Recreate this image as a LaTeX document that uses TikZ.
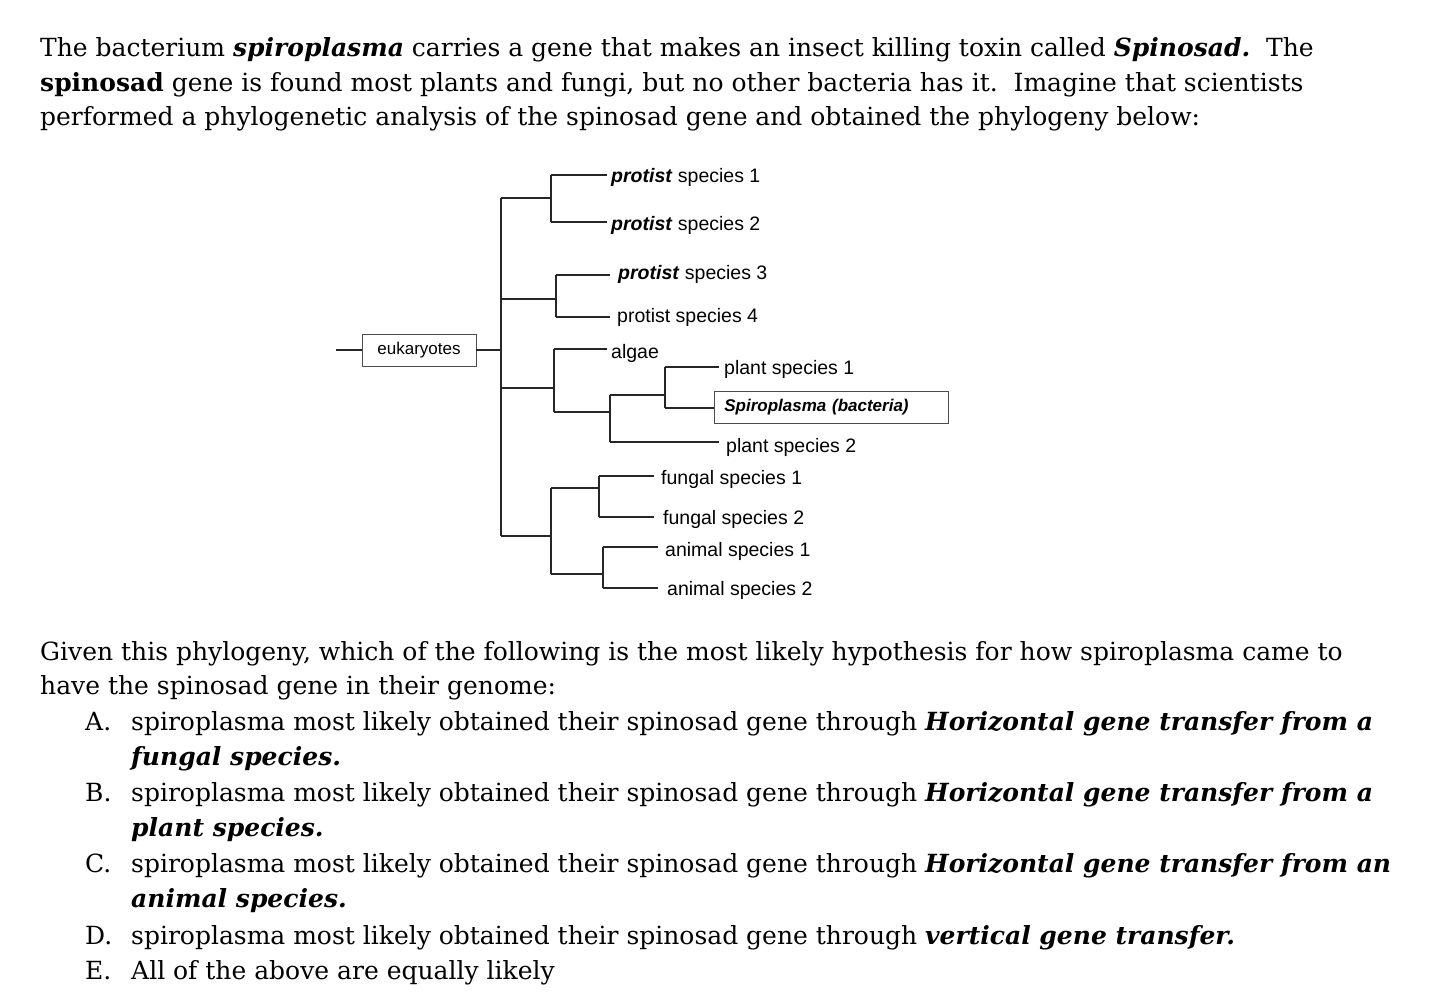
\documentclass[tikz,border=0pt]{standalone}
\usepackage{fontspec}
\setmainfont{DejaVu Serif}
\newfontfamily\arialf{Liberation Sans}
\begin{document}
\begin{tikzpicture}[x=1pt,y=-1pt,
  body/.style={anchor=base west,inner sep=0pt,font=\fontsize{25}{30}\selectfont},
  leaf/.style={anchor=base west,inner sep=0pt,font=\arialf\fontsize{19.5}{22}\selectfont},
  br/.style={line width=1.1pt,draw=black!85}]
\useasboundingbox (0,0) rectangle (1436,1000);
% question text
\node[body] (t1) at (40,57) {The bacterium \textbf{\textit{spiroplasma}} carries a gene that makes an insect killing toxin called \textbf{\textit{Spinosad.}}\ \ The};
\node[body] (t2) at (40,92) {\textbf{spinosad} gene is found most plants and fungi, but no other bacteria has it.\ \ Imagine that scientists};
\node[body] (t3) at (40,126) {performed a phylogenetic analysis of the spinosad gene and obtained the phylogeny below:};
\node[body] (g1) at (40,660) {Given this phylogeny, which of the following is the most likely hypothesis for how spiroplasma came to};
\node[body] (g2) at (40,694) {have the spinosad gene in their genome:};
\node[body] (la) at (85,730) {A.};
\node[body] (a1) at (131,730) {spiroplasma most likely obtained their spinosad gene through \textbf{\textit{Horizontal gene transfer from a}}};
\node[body] (a2) at (131,765) {\textbf{\textit{fungal species.}}};
\node[body] (lb) at (85,801) {B.};
\node[body] (b1) at (131,801) {spiroplasma most likely obtained their spinosad gene through \textbf{\textit{Horizontal gene transfer from a}}};
\node[body] (b2) at (131,836) {\textbf{\textit{plant species.}}};
\node[body] (lc) at (85,872) {C.};
\node[body] (c1) at (131,872) {spiroplasma most likely obtained their spinosad gene through \textbf{\textit{Horizontal gene transfer from an}}};
\node[body] (c2) at (131,907) {\textbf{\textit{animal species.}}};
\node[body] (ld) at (85,944) {D.};
\node[body] (d1) at (131,944) {spiroplasma most likely obtained their spinosad gene through \textbf{\textit{vertical gene transfer.}}};
\node[body] (le) at (85,979) {E.};
\node[body] (e1) at (131,979) {All of the above are equally likely};
% tree
\node[draw=black!70,line width=0.8pt,minimum width=114pt,minimum height=32pt,inner sep=0pt,font=\arialf\fontsize{17}{20}\selectfont] (euk) at (419,350) {eukaryotes};
\coordinate (r0) at (336,350);
\coordinate (m) at (501,350);
\draw[br] (r0) -- (euk.west);
\draw[br] (euk.east) -- (m);
\draw[br] (501,198) -- (501,536);
% protist 1-2
\draw[br] (501,198) -- (551,198) (551,175) -- (551,222) (551,175) -- (607,175) (551,222) -- (607,222);
\node[leaf] (p1) at (611,183) {\textbf{\textit{protist}} species 1};
\node[leaf] (p2) at (611,231) {\textbf{\textit{protist}} species 2};
% protist 3-4
\draw[br] (501,299) -- (556,299) (556,275) -- (556,317) (556,275) -- (610,275) (556,317) -- (610,317);
\node[leaf] (p3) at (618,280) {\textbf{\textit{protist}} species 3};
\node[leaf] (p4) at (617,323) {protist species 4};
% algae/plants
\draw[br] (501,388) -- (554,388) (554,349) -- (554,412) (554,349) -- (607,349) (554,412) -- (610,412);
\node[leaf] (al) at (611,359) {algae};
\draw[br] (610,395) -- (610,442) (610,395) -- (665,395) (610,442) -- (719,442);
\draw[br] (665,367) -- (665,408) (665,367) -- (719,367) (665,408) -- (714,408);
\node[leaf] (pl1) at (724,375) {plant species 1};
\node[draw=black!70,line width=0.8pt,minimum width=234pt,minimum height=32pt,inner xsep=10pt,inner ysep=0pt,anchor=west,align=left,text width=214pt,font=\arialf\fontsize{17}{20}\selectfont\bfseries\itshape] (sp) at (714,407) {Spiroplasma (bacteria)};
\node[leaf] (pl2) at (726,452) {plant species 2};
% fungi/animals
\draw[br] (501,536) -- (551,536) (551,488) -- (551,574) (551,488) -- (599,488) (551,574) -- (603,574);
\draw[br] (599,476) -- (599,517) (599,476) -- (654,476) (599,517) -- (654,517);
\draw[br] (603,547) -- (603,588) (603,547) -- (658,547) (603,588) -- (658,588);
\node[leaf] (f1) at (661,484) {fungal species 1};
\node[leaf] (f2) at (663,524) {fungal species 2};
\node[leaf] (an1) at (665,556) {animal species 1};
\node[leaf] (an2) at (667,595) {animal species 2};
\end{tikzpicture}
\end{document}
